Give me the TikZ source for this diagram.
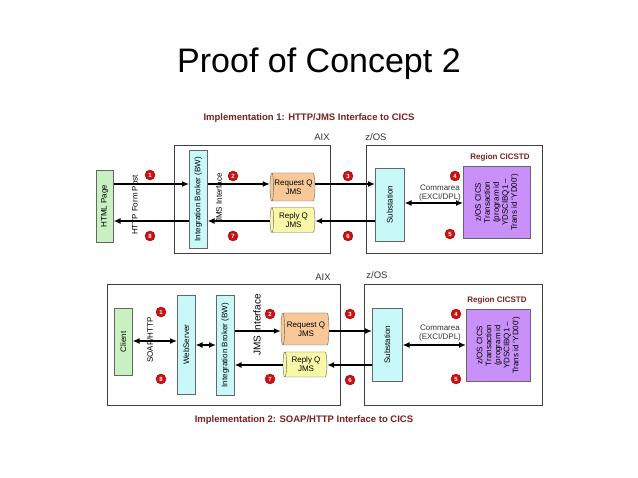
\documentclass[tikz,border=0pt]{standalone}
\usepackage{fontspec}
\setmainfont{Liberation Sans}
\usetikzlibrary{shapes.geometric,arrows.meta}
\definecolor{grn}{HTML}{C8F0C0}
\definecolor{cyn}{HTML}{C8F8F8}
\definecolor{org}{HTML}{F8C898}
\definecolor{yel}{HTML}{F8F8A8}
\definecolor{pur}{HTML}{C890F8}
\definecolor{dred}{HTML}{7A2020}
\definecolor{bred}{HTML}{D01010}
\tikzset{
 x=1pt,y=-1pt,
 frame/.style={draw=black!75,line width=0.9pt},
 box/.style={draw=black!60,line width=0.6pt,inner sep=0pt,anchor=north west},
 vt/.style={rotate=90,font=\fontsize{8}{8.5}\selectfont,align=center},
 cyl/.style={cylinder,shape border rotate=180,draw=black!60,aspect=0.25,minimum width=28pt,minimum height=45pt,inner sep=0pt,align=center,font=\fontsize{8}{9}\selectfont},
 arr/.style={line width=1.3pt,-{Latex[length=7pt,width=6pt]}},
 darr/.style={line width=1.3pt,{Latex[length=7pt,width=6pt]}-{Latex[length=7pt,width=6pt]}},
 bdg/.style={circle,fill=bred,draw=bred!70!black,inner sep=0pt,minimum size=10pt,text=white,font=\fontsize{6}{6}\selectfont\bfseries},
 lbl/.style={font=\fontsize{9.5}{10}\selectfont,text=black!80},
 ttl/.style={font=\fontsize{9.5}{10}\selectfont\bfseries,text=dred},
 reg/.style={font=\fontsize{8}{9}\selectfont\bfseries,text=dred},
 sm/.style={font=\fontsize{8}{9}\selectfont,align=center,text=black!80},
}
\begin{document}
\begin{tikzpicture}
\useasboundingbox[fill=white] (0,0) rectangle (638,478);
\node[font=\fontsize{34}{38}\selectfont] (title) at (319,64) {Proof of Concept 2};
% ---------- Implementation 1
\node[ttl] (t1) at (309,118) {Implementation 1: HTTP/JMS Interface to CICS};
\node[lbl] (aix1) at (322,137) {AIX};
\node[lbl] (zos1) at (376,137) {z/OS};
\draw[frame] (174,145) rectangle (330,253);
\draw[frame] (366,145) rectangle (542,253);
\node[reg] (reg1) at (500,157) {Region CICSTD};
\node[box,fill=grn,minimum width=17pt,minimum height=72pt] (html) at (96,170) {};
\node[vt] at (html.center) {HTML Page};
\node[box,fill=cyn,minimum width=18pt,minimum height=98pt] (ib1) at (189,150) {};
\node[vt] at (ib1.center) {Integration Broker (BW)};
\node[cyl,fill=org] (rq1) at (293.5,187) {Request Q\\JMS};
\node[cyl,fill=yel,minimum width=25pt] (pq1) at (293.5,220) {Reply Q\\JMS};
\node[box,fill=cyn,minimum width=29pt,minimum height=73pt] (sub1) at (375,168) {};
\node[vt] at (sub1.center) {Substation};
\node[box,fill=pur,minimum width=67pt,minimum height=72pt] (cics1) at (463,166) {};
\node[vt,font=\fontsize{8}{9}\selectfont] at (cics1.center) {z/OS CICS\\Transaction\\(program id\\YDSCIBQ1 --\\Trans id `YD00')};
\node[vt] (hfp) at (135,205) {HTTP Form Post};
\node[vt] (jms1) at (219,198) {JMS Interface};
\node[sm] (com1) at (440,193) {Commarea\\(EXCI/DPL)};
\draw[arr] (html.east|-0,184) -- (ib1.west|-0,184);
\draw[arr] (ib1.east|-0,184) -- (rq1.west|-0,184);
\draw[arr] (rq1.east|-0,184) -- (sub1.west|-0,184);
\draw[arr] (sub1.west|-0,221) -- (pq1.east|-0,221);
\draw[arr] (pq1.west|-0,221) -- (ib1.east|-0,221);
\draw[arr] (ib1.west|-0,221) -- (html.east|-0,221);
\draw[darr] (sub1.east|-0,203) -- (cics1.west|-0,203);
\node[bdg] (b11) at (150,175) {1};
\node[bdg] (b12) at (233,176) {2};
\node[bdg] (b13) at (348,176) {3};
\node[bdg] (b14) at (455,176) {4};
\node[bdg] (b15) at (450,234) {5};
\node[bdg] (b16) at (348,236) {6};
\node[bdg] (b17) at (233,236) {7};
\node[bdg] (b18) at (150,236) {8};
% ---------- Implementation 2
\node[lbl] (aix2) at (323,277) {AIX};
\node[lbl] (zos2) at (377,275) {z/OS};
\draw[frame] (107,284) rectangle (340,405);
\draw[frame] (364,284) rectangle (542,405);
\node[reg] (reg2) at (497,300) {Region CICSTD};
\node[box,fill=grn,minimum width=18pt,minimum height=67pt] (cli) at (114,308) {};
\node[vt] at (cli.center) {Client};
\node[box,fill=cyn,minimum width=18pt,minimum height=99pt] (ws) at (177,295) {};
\node[vt] at (ws.center) {WebServer};
\node[box,fill=cyn,minimum width=18pt,minimum height=100pt] (ib2) at (216,295) {};
\node[vt] at (ib2.center) {Integration Broker (BW)};
\node[cyl,fill=org,minimum width=32pt,minimum height=48pt] (rq2) at (306,329) {Request Q\\JMS};
\node[cyl,fill=yel,minimum width=25pt,minimum height=44pt] (pq2) at (306,364.5) {Reply Q\\JMS};
\node[box,fill=cyn,minimum width=30pt,minimum height=73pt] (sub2) at (372,308) {};
\node[vt] at (sub2.center) {Substation};
\node[box,fill=pur,minimum width=64pt,minimum height=72pt] (cics2) at (466,309) {};
\node[vt,font=\fontsize{8}{9}\selectfont] at (cics2.center) {z/OS CICS\\Transaction\\(program id\\YDSCIBQ1 --\\Trans id `YD00')};
\node[vt] (soap) at (150,340) {SOAP/HTTP};
\node[vt,font=\fontsize{10}{10}\selectfont] (jms2) at (257,325) {JMS Interface};
\node[sm] (com2) at (440,333) {Commarea\\(EXCI/DPL)};
\draw[darr] (cli.east|-0,341) -- (ws.west|-0,341);
\draw[darr] (ws.east|-0,345) -- (ib2.west|-0,345);
\draw[arr] (ib2.east|-0,331) -- (rq2.west|-0,331);
\draw[arr] (rq2.east|-0,331) -- (sub2.west|-0,331);
\draw[arr] (sub2.west|-0,365) -- (pq2.east|-0,365);
\draw[arr] (pq2.west|-0,365) -- (ib2.east|-0,365);
\draw[darr] (sub2.east|-0,345) -- (cics2.west|-0,345);
\node[bdg] (b21) at (161,312) {1};
\node[bdg] (b22) at (270,314) {2};
\node[bdg] (b23) at (350,314) {3};
\node[bdg] (b24) at (456,314) {4};
\node[bdg] (b25) at (456,379) {5};
\node[bdg] (b26) at (350,380) {6};
\node[bdg] (b27) at (270,379) {7};
\node[bdg] (b28) at (161,379) {8};
\node[ttl] (t2) at (304,420) {Implementation 2: SOAP/HTTP Interface to CICS};
\end{tikzpicture}
\end{document}
